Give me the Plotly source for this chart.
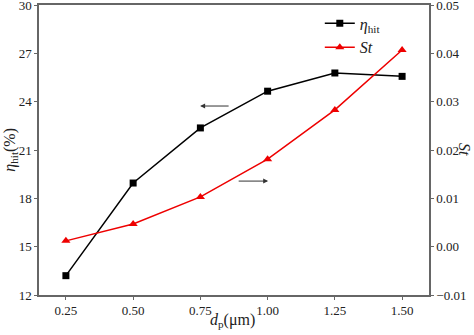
import plotly.graph_objects as go

dp = [0.25, 0.50, 0.75, 1.00, 1.25, 1.50]
eta_hit = [13.2, 18.95, 22.37, 24.65, 25.78, 25.57]
st = [0.0012, 0.0047, 0.0103, 0.0181, 0.0283, 0.0407]
x_ticks = [0.25, 0.50, 0.75, 1.00, 1.25, 1.50]
x_tick_labels = ["0.25", "0.50", "0.75", "1.00", "1.25", "1.50"]
y1_ticks = [12, 15, 18, 21, 24, 27, 30]
y2_ticks = [-0.01, 0.00, 0.01, 0.02, 0.03, 0.04, 0.05]
y2_tick_labels = ["\u22120.01", "0.00", "0.01", "0.02", "0.03", "0.04", "0.05"]

font = "Liberation Serif"
axcol = "#666666"

fig = go.Figure()
fig.add_trace(go.Scatter(x=dp, y=eta_hit, mode="lines+markers", name="<i>η</i><sub>hit</sub>",
                         line=dict(color="black", width=1.5),
                         marker=dict(symbol="square", size=7, color="black")))
fig.add_trace(go.Scatter(x=dp, y=st, mode="lines+markers", name="<i>St</i>", yaxis="y2",
                         line=dict(color="#ee0000", width=1.5),
                         marker=dict(symbol="triangle-up", size=8, color="#ee0000")))

fig.update_layout(
    width=474, height=335,
    margin=dict(l=39, r=45, t=5, b=40, autoexpand=False),
    paper_bgcolor="white", plot_bgcolor="white",
    font=dict(family=font, size=13, color="#222"),
    xaxis=dict(range=[0.15, 1.6], tickvals=x_ticks, ticktext=x_tick_labels,
               showgrid=False, zeroline=False, showline=True, linecolor=axcol, linewidth=1.5,
               mirror=True, ticks="outside", ticklen=3, tickcolor=axcol,
               ticklabeloverflow="allow", automargin=False),
    yaxis=dict(range=[12, 30], tickvals=y1_ticks, showgrid=False, zeroline=False,
               showline=True, linecolor=axcol, linewidth=1.5, ticks="outside", ticklen=3,
               tickcolor=axcol, ticklabeloverflow="allow", automargin=False),
    yaxis2=dict(range=[-0.01, 0.05], tickvals=y2_ticks, ticktext=y2_tick_labels,
                overlaying="y", side="right", showgrid=False, zeroline=False,
                showline=True, linecolor=axcol, linewidth=1.5, ticks="outside", ticklen=3,
                tickcolor=axcol, ticklabeloverflow="allow", automargin=False),
    legend=dict(x=0.72, y=0.995, xanchor="left", yanchor="top", bgcolor="rgba(0,0,0,0)",
                font=dict(size=16), tracegroupgap=0, itemwidth=30),
    showlegend=True,
)

fig.add_annotation(text="<i>d</i><sub>p</sub>(μm)", xref="paper", yref="paper",
                   x=0.495, y=-0.088, xanchor="center", yanchor="middle",
                   showarrow=False, font=dict(size=16), borderpad=0)
fig.add_annotation(text="<i>η</i><sub>hit</sub>(%)", xref="paper", yref="paper",
                   x=-0.075, y=0.5, xanchor="center", yanchor="middle", textangle=-90,
                   showarrow=False, font=dict(size=16), borderpad=0)
fig.add_annotation(text="<i>St</i>", xref="paper", yref="paper",
                   x=1.092, y=0.5, xanchor="center", yanchor="middle", textangle=90,
                   showarrow=False, font=dict(size=16), borderpad=0)

fig.add_annotation(x=0.749, y=23.73, xref="x", yref="y", ax=30, ay=0, showarrow=True,
                   arrowhead=2, arrowsize=1, arrowwidth=1, arrowcolor="#333", text="")
fig.add_annotation(x=1.002, y=19.07, xref="x", yref="y", ax=-31, ay=0, showarrow=True,
                   arrowhead=2, arrowsize=1, arrowwidth=1, arrowcolor="#333", text="")

fig.write_html("out.html")
